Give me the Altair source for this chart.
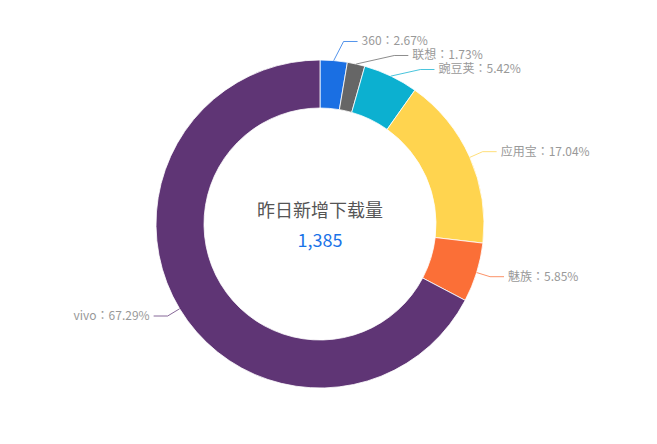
import math
import altair as alt
import pandas as pd

# ---- data ----
names = ["360", "联想", "豌豆荚", "应用宝", "魅族", "vivo"]
counts = [37, 24, 75, 236, 81, 932]
colors = ["#1a6fe3", "#666666", "#0cb0d0", "#ffd44f", "#fb6f37", "#5f3575"]
center_title = "昨日新增下载量"
total = sum(counts)

# ---- layout / style ----
W, H = 657, 444
CX, CY = 320, 224
R_IN, R_OUT = 116, 164
LEN1, LEN2 = 14, 14
LINE_H = 14
FONT = "Noto Sans CJK SC"
LABEL_FONT = "Noto Sans CJK JP"

# ---- label layout derived from the data (ECharts-like) ----
items = []
cum = 0
for i, (n, c) in enumerate(zip(names, counts)):
    mid = (cum + c / 2) / total * 2 * math.pi
    cum += c
    s, co = math.sin(mid), math.cos(mid)
    side = 1 if s >= 0 else -1
    rl = R_OUT + LEN1
    items.append(dict(
        name=n, idx=i, side=side,
        sx=CX + R_OUT * s, sy=CY - R_OUT * co,
        ex=CX + rl * s, ey=CY - rl * co, ny=CY - rl * co + 2,
        label=f"{n}：{c / total * 100:.2f}%",
    ))

for side in (1, -1):
    group = sorted([it for it in items if it["side"] == side], key=lambda d: d["ny"])
    clusters = [[it] for it in group]

    def place(cl):
        if len(cl) == 1:
            return
        m = sum(it["ny"] for it in cl) / len(cl)
        for k, it in enumerate(cl):
            it["ey"] = m + (k - (len(cl) - 1) / 2) * LINE_H

    merged = True
    while merged:
        merged = False
        for k in range(len(clusters) - 1):
            a, b = clusters[k], clusters[k + 1]
            if a[-1]["ey"] + LINE_H > b[0]["ey"]:
                clusters[k] = a + b
                del clusters[k + 1]
                place(clusters[k])
                merged = True
                break
    for cl in clusters:
        if len(cl) > 1:
            rb = max(abs(it["ey"] - CY) for it in cl) + 1.5
            ra = R_OUT + LEN1 + 7
            for it in cl:
                dy = abs(it["ey"] - CY)
                dx = ra * math.sqrt(max(0.0, 1 - dy * dy / (rb * rb)))
                it["ex"] = CX + side * dx

line_rows, text_rows = [], []
for it in items:
    endx = it["ex"] + it["side"] * LEN2
    line_rows += [
        dict(name=it["name"], step=0, x=it["sx"], y=it["sy"]),
        dict(name=it["name"], step=1, x=it["ex"], y=it["ey"]),
        dict(name=it["name"], step=2, x=endx, y=it["ey"]),
    ]
    text_rows.append(dict(name=it["name"], label=it["label"],
                          tx=endx + it["side"] * 4, ty=it["ey"], side=it["side"]))

base_df = pd.DataFrame({"name": names, "count": counts, "idx": list(range(len(names)))})
line_df = pd.DataFrame(line_rows)
text_df = pd.DataFrame(text_rows)
center_df = pd.DataFrame({"t": [center_title], "v": [f"{total:,}"]})

color_enc = alt.Color("name:N", scale=alt.Scale(domain=names, range=colors), legend=None)

arcs = alt.Chart(base_df).mark_arc(
    innerRadius=R_IN, outerRadius=R_OUT, stroke="#ffffff", strokeWidth=0.8
).encode(
    theta=alt.Theta("count:Q", stack=True),
    order=alt.Order("idx:Q"),
    color=color_enc,
    x=alt.value(CX), y=alt.value(CY),
)

lines = alt.Chart(line_df).mark_line(strokeWidth=1, opacity=0.75).encode(
    x=alt.X("x:Q", scale=None, axis=None),
    y=alt.Y("y:Q", scale=None, axis=None),
    detail="name:N",
    order="step:Q",
    color=color_enc,
)

text_right = alt.Chart(text_df).transform_filter("datum.side > 0").mark_text(
    align="left", baseline="middle", fontSize=12, color="#999999", font=LABEL_FONT
).encode(
    x=alt.X("tx:Q", scale=None, axis=None),
    y=alt.Y("ty:Q", scale=None, axis=None),
    text="label:N",
)
text_left = alt.Chart(text_df).transform_filter("datum.side < 0").mark_text(
    align="right", baseline="middle", fontSize=12, color="#999999", font=LABEL_FONT
).encode(
    x=alt.X("tx:Q", scale=None, axis=None),
    y=alt.Y("ty:Q", scale=None, axis=None),
    text="label:N",
)

title_txt = alt.Chart(center_df).mark_text(
    align="center", baseline="middle", fontSize=18, color="#555555", font=FONT
).encode(x=alt.value(CX), y=alt.value(CY - 12), text="t:N")
value_txt = alt.Chart(center_df).mark_text(
    align="center", baseline="middle", fontSize=18, color="#1a73e8", font=FONT
).encode(x=alt.value(CX), y=alt.value(CY + 18), text="v:N")

chart = alt.layer(arcs, lines, text_right, text_left, title_txt, value_txt).properties(
    width=W, height=H, padding=0, autosize=alt.AutoSizeParams(type="none"),
    background="#ffffff",
).configure_view(stroke=None)

chart.save("out.html", embed_options={"renderer": "svg", "actions": False})
